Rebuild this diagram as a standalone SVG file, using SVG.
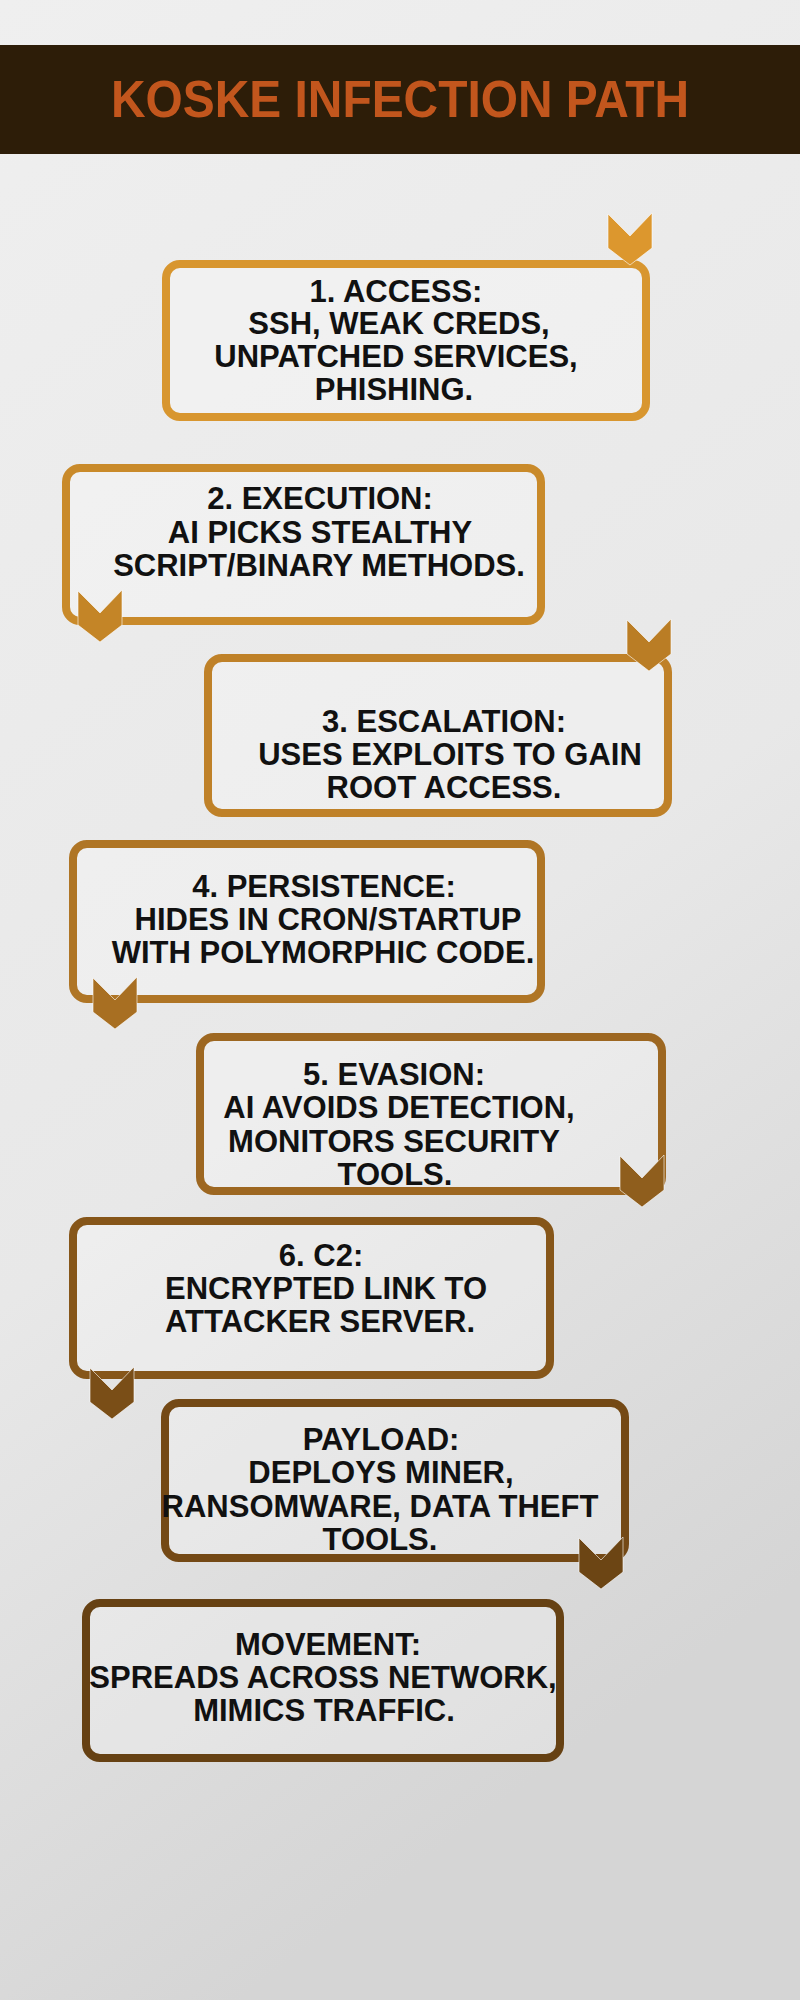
<svg xmlns="http://www.w3.org/2000/svg" xmlns:xlink="http://www.w3.org/1999/xlink" width="800" height="2000" viewBox="0 0 800 2000">
<defs>
<linearGradient id="bg" x1="0" y1="0" x2="0.3" y2="1">
<stop offset="0" stop-color="#efefef"/>
<stop offset="0.6" stop-color="#e8e8e8"/>
<stop offset="1" stop-color="#d5d5d5"/>
</linearGradient>
<path id="chev" d="M-22,1 L0,23 L22,0 L22,35 L0,52 L-22,35 Z"/>
</defs>
<style>
.box{fill:#ffffff;fill-opacity:0.25;stroke-width:8}
.t{font-family:"Liberation Sans",Arial,sans-serif;font-weight:bold;font-size:31px;fill:#111111;text-anchor:middle}
.title{font-family:"Liberation Sans",Arial,sans-serif;font-weight:bold;font-size:52px;fill:#c2561d;text-anchor:middle}
.chev{stroke:#ffffff;stroke-width:1;stroke-opacity:0.6}
</style>
<rect x="0" y="0" width="800" height="2000" fill="url(#bg)"/>
<g id="header">
<rect x="0" y="45" width="800" height="109" fill="#2d1d08"/>
<text class="title" x="400" y="117" textLength="578" lengthAdjust="spacingAndGlyphs">KOSKE INFECTION PATH</text>
</g>
<g id="node1">
<rect class="box" x="166" y="264" width="480" height="153" rx="14" stroke="#d8962f"/>
<text class="t" x="396" y="302">1. ACCESS:</text>
<text class="t" x="399" y="334">SSH, WEAK CREDS,</text>
<text class="t" x="396" y="367">UNPATCHED SERVICES,</text>
<text class="t" x="394" y="400">PHISHING.</text>
</g>
<g id="node2">
<rect class="box" x="66" y="468" width="475" height="153" rx="14" stroke="#c98a2a"/>
<text class="t" x="320" y="509">2. EXECUTION:</text>
<text class="t" x="320" y="543">AI PICKS STEALTHY</text>
<text class="t" x="319" y="576">SCRIPT/BINARY METHODS.</text>
</g>
<g id="node3">
<rect class="box" x="208" y="658" width="460" height="155" rx="14" stroke="#bf8128"/>
<text class="t" x="444" y="732">3. ESCALATION:</text>
<text class="t" x="450" y="765">USES EXPLOITS TO GAIN</text>
<text class="t" x="444" y="798">ROOT ACCESS.</text>
</g>
<g id="node4">
<rect class="box" x="73" y="844" width="468" height="155" rx="14" stroke="#af7525"/>
<text class="t" x="324" y="897">4. PERSISTENCE:</text>
<text class="t" x="328" y="930">HIDES IN CRON/STARTUP</text>
<text class="t" x="323" y="963">WITH POLYMORPHIC CODE.</text>
</g>
<g id="node5">
<rect class="box" x="200" y="1037" width="462" height="154" rx="14" stroke="#9d6721"/>
<text class="t" x="394" y="1085">5. EVASION:</text>
<text class="t" x="399" y="1118">AI AVOIDS DETECTION,</text>
<text class="t" x="394" y="1152">MONITORS SECURITY</text>
<text class="t" x="395" y="1185">TOOLS.</text>
</g>
<g id="node6">
<rect class="box" x="73" y="1221" width="477" height="154" rx="14" stroke="#865619"/>
<text class="t" x="321" y="1266">6. C2:</text>
<text class="t" x="326" y="1299">ENCRYPTED LINK TO</text>
<text class="t" x="320" y="1332">ATTACKER SERVER.</text>
</g>
<g id="node7">
<rect class="box" x="165" y="1403" width="460" height="155" rx="14" stroke="#744915"/>
<text class="t" x="381" y="1450">PAYLOAD:</text>
<text class="t" x="381" y="1483">DEPLOYS MINER,</text>
<text class="t" x="380" y="1517">RANSOMWARE, DATA THEFT</text>
<text class="t" x="380" y="1550">TOOLS.</text>
</g>
<g id="node8">
<rect class="box" x="86" y="1603" width="474" height="155" rx="14" stroke="#664113"/>
<text class="t" x="328" y="1655">MOVEMENT:</text>
<text class="t" x="323" y="1688">SPREADS ACROSS NETWORK,</text>
<text class="t" x="324" y="1721">MIMICS TRAFFIC.</text>
</g>
<g id="connectors">
<use class="chev" xlink:href="#chev" href="#chev" x="630" y="213" fill="#dc972e"/>
<use class="chev" xlink:href="#chev" href="#chev" x="100" y="590" fill="#c48527"/>
<use class="chev" xlink:href="#chev" href="#chev" x="649" y="619" fill="#ba7d25"/>
<use class="chev" xlink:href="#chev" href="#chev" x="115" y="977" fill="#a86f22"/>
<use class="chev" xlink:href="#chev" href="#chev" x="642" y="1155" fill="#8f5e1d"/>
<use class="chev" xlink:href="#chev" href="#chev" x="112" y="1367" fill="#7a4e17"/>
<use class="chev" xlink:href="#chev" href="#chev" x="601" y="1537" fill="#6c4514"/>
</g>
</svg>
